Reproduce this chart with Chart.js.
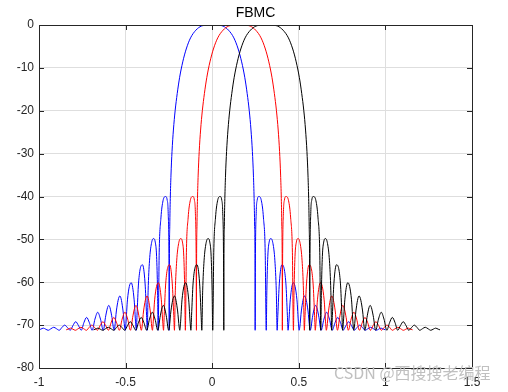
<!DOCTYPE html>
<html>
<head>
<meta charset="utf-8">
<script src="https://cdn.jsdelivr.net/npm/chart.js@4.4.1/dist/chart.umd.min.js"></script>
<style>
  html, body { margin: 0; padding: 0; background: #fff; }
  #wrap { position: relative; width: 508px; height: 392px; }
  #mark { position: absolute; left: 334px; top: 360px; font: 16px "Noto Sans CJK SC", sans-serif; color: #c0c0c0; white-space: nowrap; }
</style>
</head>
<body>
<div id="wrap">
  <canvas id="fbmc" width="508" height="392"></canvas>
  <div id="mark">CSDN @西搜搜老编程</div>
</div>
<script>
// three subcarriers, same prototype filter response, different centre frequency
var seriesNames = ["subcarrier 1", "subcarrier 2", "subcarrier 3"];
var centres = [0, 0.157, 0.315];

// one side of the response: distance from centre / level in dB
var profileOffset = [
    0, 0.03, 0.0625, 0.094, 0.125, 0.150, 0.170, 0.188, 0.202, 0.214, 0.224, 0.232, 0.238, 0.242, 0.245, 0.2472, 0.248,
    0.2495, 0.254, 0.260, 0.269, 0.284, 0.296, 0.306, 0.312,
    0.3155, 0.321, 0.329, 0.339, 0.351, 0.362, 0.370, 0.375,
    0.3788, 0.3877, 0.403, 0.4253, 0.4342, 0.438,
    0.4418, 0.4507, 0.468, 0.4893, 0.4982, 0.502,
    0.5058, 0.5147, 0.533, 0.5533, 0.5622, 0.566,
    0.5698, 0.5787, 0.597, 0.6163, 0.6252, 0.629,
    0.645, 0.661, 0.677, 0.693,
    0.709, 0.725, 0.741, 0.756,
    0.772, 0.788, 0.804, 0.820,
    0.836, 0.852, 0.868, 0.883,
    0.899, 0.915, 0.931, 0.947,
    0.961, 0.975, 0.990, 1.0
];
var profileDb = [
    0, -0.06, -0.25, -1.2, -3.0, -5.6, -8.6, -12.2, -16.0, -20.0, -24.5, -29.5, -35.0, -40.5, -47.0, -56.0, -71.2,
    -55, -44, -40.8, -40.0, -41.0, -45.0, -53.0, -71.2,
    -62, -54, -50.6, -49.8, -51.0, -55.0, -62.0, -71.2,
    -67.8, -60.2, -55.9, -60.2, -67.8, -71.2,
    -69.7, -64.1, -60.1, -64.1, -69.7, -71.2,
    -70.45, -66.7, -63.2, -66.7, -70.45, -71.2,
    -70.8, -68.2, -65.4, -68.2, -70.8, -71.2,
    -68.6, -67.0, -68.6, -71.2,
    -69.45, -68.2, -69.45, -71.2,
    -70.1, -69.2, -70.1, -71.2,
    -70.56, -70.0, -70.56, -71.2,
    -70.84, -70.5, -70.84, -71.2,
    -70.95, -70.7, -70.95, -71.1
];

var xTicks = [-1, -0.5, 0, 0.5, 1, 1.5];
var yTicks = [-80, -70, -60, -50, -40, -30, -20, -10, 0];

var lineColors = ["#0000ff", "#ff0000", "#000000"];

function response(c) {
    var pts = [];
    for (var i = profileOffset.length - 1; i > 0; i--) {
        pts.push({ x: c - profileOffset[i], y: profileDb[i] });
    }
    for (var j = 0; j < profileOffset.length; j++) {
        pts.push({ x: c + profileOffset[j], y: profileDb[j] });
    }
    return pts;
}

var FONT = "'Liberation Sans', Arial, Helvetica, sans-serif";

// title and the axes box with inward ticks, MATLAB style
var boxPlugin = {
    id: "box",
    afterDraw: function (chart) {
        var ctx = chart.ctx, a = chart.chartArea;
        var xs = chart.scales.x, ys = chart.scales.y;
        ctx.save();
        ctx.strokeStyle = "#262626";
        ctx.lineWidth = 1;
        ctx.strokeRect(Math.round(a.left) + 0.5, Math.round(a.top) + 0.5,
            Math.round(a.right - a.left), Math.round(a.bottom - a.top));
        ctx.beginPath();
        xTicks.forEach(function (v) {
            var px = Math.round(xs.getPixelForValue(v)) + 0.5;
            ctx.moveTo(px, a.top); ctx.lineTo(px, a.top + 5);
            ctx.moveTo(px, a.bottom); ctx.lineTo(px, a.bottom - 5);
        });
        yTicks.forEach(function (v) {
            var py = Math.round(ys.getPixelForValue(v)) + 0.5;
            ctx.moveTo(a.left, py); ctx.lineTo(a.left + 5, py);
            ctx.moveTo(a.right, py); ctx.lineTo(a.right - 5, py);
        });
        ctx.stroke();
        ctx.fillStyle = "#000";
        ctx.font = "14px " + FONT;
        ctx.textAlign = "center";
        ctx.textBaseline = "middle";
        ctx.fillText("FBMC", (a.left + a.right) / 2, 13);
        ctx.restore();
    }
};

new Chart("fbmc", {
    type: "scatter",
    data: {
        datasets: centres.map(function (c, k) {
            return {
                label: seriesNames[k],
                data: response(c),
                showLine: true,
                borderColor: lineColors[k],
                borderWidth: 1,
                pointRadius: 0,
                fill: false,
                cubicInterpolationMode: "monotone",
                order: 2 - k
            };
        })
    },
    options: {
        responsive: false,
        animation: false,
        events: [],
        layout: { padding: { top: 25, right: 36, left: 0, bottom: 0 } },
        plugins: {
            legend: { display: false },
            tooltip: { enabled: false }
        },
        scales: {
            x: {
                type: "linear",
                min: -1,
                max: 1.5,
                afterBuildTicks: function (s) { s.ticks = xTicks.map(function (v) { return { value: v }; }); },
                ticks: {
                    color: "#262626", font: { size: 12, family: FONT }, padding: 7, maxRotation: 0,
                    callback: function (v) { return String(v); }
                },
                grid: { color: "#dedede", drawTicks: false },
                border: { display: false },
                afterFit: function (s) { s.height = 24; }
            },
            y: {
                min: -80,
                max: 0,
                afterBuildTicks: function (s) { s.ticks = yTicks.map(function (v) { return { value: v }; }); },
                ticks: {
                    color: "#262626", font: { size: 12, family: FONT }, padding: 5,
                    callback: function (v) { return String(v); }
                },
                grid: { color: "#dedede", drawTicks: false },
                border: { display: false },
                afterFit: function (s) { s.width = 39; }
            }
        }
    },
    plugins: [boxPlugin]
});
</script>
</body>
</html>
